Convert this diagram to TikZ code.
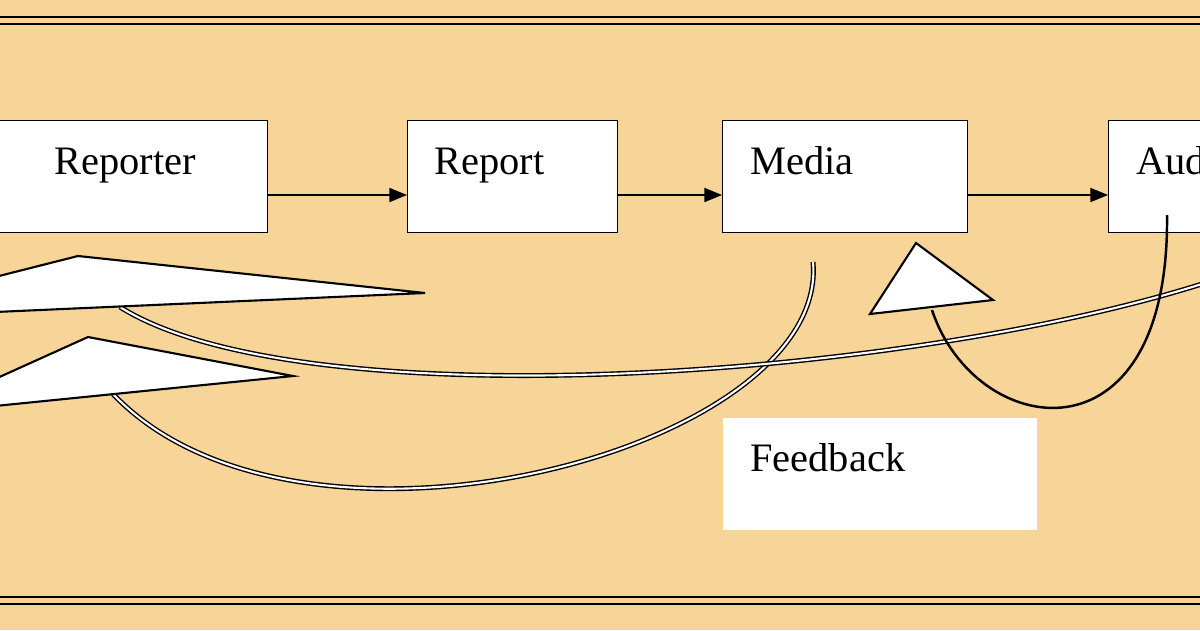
\documentclass[tikz,border=0pt]{standalone}
\usepackage{fontspec}
\setmainfont{Liberation Serif}
\usetikzlibrary{arrows.meta, positioning}
\definecolor{tan}{HTML}{F7D497}
\begin{document}
\begin{tikzpicture}[x=0.02cm, y=-0.02cm,
    stagebox/.style={rectangle, draw=black, thick, fill=white, anchor=north west, inner sep=0pt, minimum height=2.24cm},
    stagetext/.style={font=\fontsize{23}{26}\selectfont, anchor=base west, inner sep=0pt},
    flow/.style={thick, -{Triangle[length=10pt, width=8pt]}},
    hollowtip/.style={draw=black, line width=1.2pt, fill=white, line join=miter},
    loopline/.style={draw=black, line width=0.8pt, double=white, double distance=1.2pt},
]
\useasboundingbox (0,0) rectangle (1200,630);
\clip (0,0) rectangle (1200,630);
\fill[tan] (0,0) rectangle (1200,630);

% frame lines
\draw[line width=1.6pt] (0,17) -- (1200,17) (0,24) -- (1200,24);
\draw[line width=1.6pt] (0,597) -- (1200,597) (0,604) -- (1200,604);

% stage boxes
\node[stagebox, minimum width=5.44cm] (reporter) at (-5,120) {};
\node[stagebox, minimum width=4.2cm] (report) at (407,120) {};
\node[stagebox, minimum width=4.9cm] (media) at (722,120) {};
\node[stagebox, minimum width=2.2cm] (audience) at (1108,120) {};

\node[stagetext] (reporterlbl) at (54,174) {Reporter};
\node[stagetext] (reportlbl) at (434,174) {Report};
\node[stagetext] (medialbl) at (750,174) {Media};
\node[stagetext] (audiencelbl) at (1136,174) {Audience};

% feedback box
\node[rectangle, fill=white, anchor=north west, minimum width=6.28cm, minimum height=2.24cm, inner sep=0pt] (feedback) at (723,418) {};
\node[stagetext] (feedbacklbl) at (750,471) {Feedback};

% flow arrows
\draw[flow] (reporter.east |- 0,195) -- (report.west |- 0,195);
\draw[flow] (report.east |- 0,195) -- (media.west |- 0,195);
\draw[flow] (media.east |- 0,195) -- (audience.west |- 0,195);

% feedback curves
\coordinate (mstart) at (813,262);
\coordinate (astart) at (1205,283);
\coordinate (lstart) at (1167,215);
\draw[loopline] (mstart) .. controls (830,450) and (300,590) .. (113,394);
\draw[loopline] (astart) .. controls (900,380) and (300,420) .. (120,307);
\draw[line width=1.4pt] (lstart) .. controls (1170,470) and (975,440) .. (932,310);

% hollow tips
\draw[hollowtip] (-5,277) -- (78,256) -- (425,293) -- (-5,312) -- cycle;
\draw[hollowtip] (-5,379) -- (88,337) -- (293,376) -- (-5,406) -- cycle;
\draw[hollowtip] (870,314) -- (916,243) -- (993,300) -- cycle;
\end{tikzpicture}
\end{document}
